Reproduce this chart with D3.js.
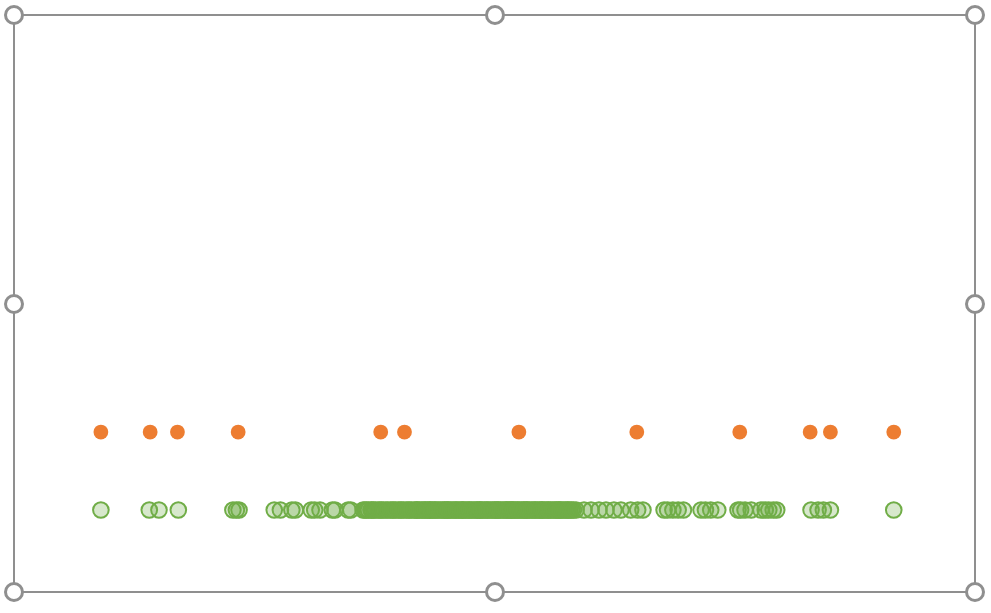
<!DOCTYPE html>
<html>
<head>
<meta charset="utf-8">
<script src="https://cdn.jsdelivr.net/npm/d3@7"></script>
<style>
  html, body { margin: 0; padding: 0; background: #fff; }
  svg { display: block; }
</style>
</head>
<body>
<div id="chart"></div>
<script>
// valores (eixo x em unidades 0-100)
const seriesNames = ["Amostra", "Referência"];
const seriesLevel = [1, 2];

const sampleValues = [
  5.1, 10.6, 11.7, 13.9, 20.1, 20.5, 20.8, 24.8, 25.5, 26.8, 27.2, 29.0, 29.4, 30.0,
  31.4, 31.7, 33.2, 33.5, 34.9, 35.1, 35.3, 35.5, 35.8, 35.9, 36.1, 36.3, 36.6, 36.8,
  37.0, 37.2, 37.5, 37.7, 38.0, 38.2, 38.4, 38.6, 38.9, 39.1, 39.3, 39.5, 39.8, 40.0,
  40.2, 40.4, 40.7, 40.9, 41.0, 41.1, 41.3, 41.5, 41.7, 41.9, 42.0, 42.2, 42.4, 42.5,
  42.6, 42.8, 43.0, 43.1, 43.3, 43.5, 43.7, 43.9, 44.1, 44.2, 44.4, 44.5, 44.6, 44.8,
  45.0, 45.2, 45.4, 45.5, 45.7, 45.9, 46.1, 46.2, 46.3, 46.5, 46.7, 46.9, 47.0, 47.2,
  47.4, 47.6, 47.8, 47.9, 48.1, 48.2, 48.3, 48.5, 48.7, 48.9, 49.0, 49.2, 49.4, 49.6,
  49.8, 49.9, 50.1, 50.2, 50.3, 50.5, 50.7, 50.9, 51.1, 51.2, 51.4, 51.6, 51.8, 51.9,
  52.0, 52.2, 52.4, 52.5, 52.7, 52.9, 53.1, 53.2, 53.4, 53.5, 53.6, 53.8, 54.0, 54.2,
  54.4, 54.5, 54.7, 54.9, 55.1, 55.2, 55.3, 55.5, 55.7, 55.9, 56.0, 56.2, 56.4, 56.6,
  56.8, 56.9, 57.1, 57.2, 57.3, 57.5, 57.7, 57.9, 58.1, 58.2, 58.4, 58.6, 58.8, 59.1,
  60.0, 60.8, 61.7, 62.5, 63.4, 64.2, 65.3, 66.1, 66.7, 69.1, 69.5, 70.1, 70.7, 71.3,
  73.3, 73.8, 74.4, 75.2, 77.5, 77.8, 78.3, 79.0, 80.1, 80.6, 81.0, 81.5, 81.9, 85.8,
  86.6, 87.2, 88.0, 95.2
];

const referenceValues = [5.1, 10.7, 13.8, 20.7, 36.9, 39.6, 52.6, 66.0, 77.7, 85.7, 88.0, 95.2];

const width = 991, height = 613;
const frame = { left: 14, top: 15, right: 975, bottom: 592 };

const svg = d3.select("#chart").append("svg")
  .attr("width", width)
  .attr("height", height);

const x = d3.scaleLinear().domain([0, 100]).range([56, 936]);
const y = d3.scaleLinear().domain([0, 7.35]).range([588, 15]);

// pontos verdes (contorno + preenchimento transparente)
svg.append("g")
  .selectAll("circle")
  .data(sampleValues)
  .join("circle")
  .attr("cx", d => x(d))
  .attr("cy", y(seriesLevel[0]))
  .attr("r", 7.8)
  .attr("fill", "#70ad47")
  .attr("fill-opacity", 0.28)
  .attr("stroke", "#70ad47")
  .attr("stroke-width", 2);

// pontos laranja
svg.append("g")
  .selectAll("circle")
  .data(referenceValues)
  .join("circle")
  .attr("cx", d => x(d))
  .attr("cy", y(seriesLevel[1]))
  .attr("r", 7.4)
  .attr("fill", "#ed7d31");

// moldura de seleção
svg.append("rect")
  .attr("x", frame.left)
  .attr("y", frame.top)
  .attr("width", frame.right - frame.left)
  .attr("height", frame.bottom - frame.top)
  .attr("fill", "none")
  .attr("stroke", "#8f8f8f")
  .attr("stroke-width", 2);

const midX = (frame.left + frame.right) / 2 + 0.5;
const midY = (frame.top + frame.bottom) / 2 + 0.5;
const handles = [
  [frame.left, frame.top], [midX, frame.top], [frame.right, frame.top],
  [frame.left, midY], [frame.right, midY],
  [frame.left, frame.bottom], [midX, frame.bottom], [frame.right, frame.bottom]
];

svg.append("g")
  .selectAll("circle")
  .data(handles)
  .join("circle")
  .attr("cx", d => d[0])
  .attr("cy", d => d[1])
  .attr("r", 8.5)
  .attr("fill", "#fff")
  .attr("stroke", "#8f8f8f")
  .attr("stroke-width", 3);
</script>
</body>
</html>
